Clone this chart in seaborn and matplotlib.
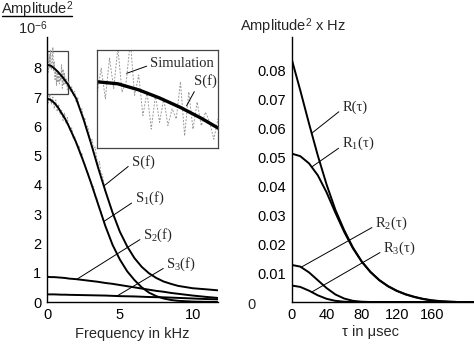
import numpy as np
import pandas as pd
import matplotlib
matplotlib.use('Agg')
import matplotlib.pyplot as plt
import seaborn as sns

# ---- data ----
# spectra (left panel), frequency in kHz, amplitude^2 in 1e-6
freq = [0, 0.25, 0.5, 0.75, 1, 1.25, 1.5, 2, 2.5, 3, 3.5, 4, 4.5, 5, 5.5, 6, 6.5,
        7, 7.5, 8, 8.5, 9, 10, 11, 11.7]
s_total = [8.1, 8.07, 7.98, 7.86, 7.72, 7.56, 7.38, 6.95, 6.25, 5.45, 4.6, 3.8, 3.05,
           2.4, 1.9, 1.5, 1.2, 0.98, 0.82, 0.7, 0.62, 0.55, 0.47, 0.43, 0.4]
s1 = [6.95, 6.9, 6.8, 6.65, 6.45, 6.25, 6.0, 5.45, 4.8, 4.1, 3.35, 2.6, 1.95,
      1.45, 1.05, 0.75, 0.5, 0.32, 0.2, 0.12, 0.07, 0.04, 0.015, 0.005, 0.0]
s2 = [0.86, 0.85, 0.85, 0.84, 0.83, 0.82, 0.8, 0.78, 0.75, 0.72, 0.69, 0.65, 0.62,
      0.58, 0.54, 0.5, 0.46, 0.42, 0.38, 0.35, 0.31, 0.28, 0.22, 0.17, 0.14]
s3 = [0.26, 0.26, 0.26, 0.255, 0.25, 0.25, 0.245, 0.24, 0.235, 0.23, 0.225, 0.22, 0.21,
      0.2, 0.195, 0.19, 0.18, 0.17, 0.165, 0.16, 0.15, 0.14, 0.12, 0.1, 0.09]

# simulated (noisy) spectrum, fine steps near 0 (inset) and along S / S1
sim_f_hi = [0.0, 0.05, 0.1, 0.15, 0.2, 0.25, 0.3, 0.35, 0.4, 0.45, 0.5, 0.55, 0.6, 0.65,
            0.7, 0.75, 0.8, 0.85, 0.9, 0.95, 1.0, 1.05, 1.1, 1.15, 1.2, 1.25, 1.3, 1.35,
            1.4, 1.45]
sim_s_hi = [7.9, 8.3, 7.85, 8.45, 8.0, 8.6, 7.95, 8.1, 8.7, 7.9, 8.2, 7.6, 7.95, 7.4,
            7.9, 7.5, 7.85, 7.45, 7.7, 7.55, 8.1, 7.3, 7.95, 7.4, 7.8, 7.45, 7.65, 7.5,
            7.25, 7.55]
sim_f_mid = [1.5, 1.6, 1.7, 1.8, 1.9, 2.0, 2.1, 2.2, 2.3, 2.4, 2.5, 2.6, 2.7, 2.8, 2.9,
             3.0, 3.1, 3.2, 3.3, 3.4, 3.5, 3.6, 3.7, 3.8, 3.9, 4.0]
sim_s_mid = [7.5, 7.2, 7.35, 7.05, 7.2, 6.85, 7.0, 6.7, 6.55, 6.6, 6.2, 6.3, 5.95, 6.0,
             5.7, 5.5, 5.55, 5.2, 5.3, 4.95, 4.65, 4.8, 4.4, 4.35, 4.05, 3.8]
sim_f1 = [0.0, 0.1, 0.2, 0.3, 0.4, 0.5, 0.6, 0.7, 0.8, 0.9, 1.0, 1.1, 1.2, 1.3, 1.4, 1.5,
          1.6, 1.7, 1.8, 1.9, 2.0, 2.1, 2.2, 2.3, 2.4, 2.5, 2.6, 2.7, 2.8, 2.9, 3.0, 3.1,
          3.2, 3.3, 3.4, 3.5, 3.6, 3.7, 3.8, 3.9, 4.0]
sim_s1 = [7.3, 6.8, 7.1, 6.75, 7.0, 6.6, 6.9, 6.5, 6.75, 6.4, 6.55, 6.2, 6.45, 6.1, 6.3,
          5.95, 5.85, 5.95, 5.6, 5.65, 5.4, 5.3, 5.35, 5.0, 5.1, 4.75, 4.7, 4.5, 4.45,
          4.2, 4.1, 3.9, 3.95, 3.6, 3.55, 3.35, 3.2, 3.1, 2.9, 2.75, 2.6]

# autocorrelations (right panel), tau in microseconds
tau = [0, 10, 20, 30, 40, 50, 60, 70, 80, 90, 100, 110, 120, 130, 140, 150, 160, 170,
       180, 190, 207]
r_total = [0.084, 0.073, 0.0615, 0.0505, 0.0405, 0.0318, 0.0248, 0.0188, 0.014, 0.0104,
           0.0076, 0.0055, 0.0039, 0.0027, 0.0018, 0.0011, 0.0006, 0.0003, 0.0001, 0.0, 0.0]
r1 = [0.0512, 0.0503, 0.0478, 0.0437, 0.0378, 0.0308, 0.0242, 0.0185, 0.0139, 0.0103,
      0.0075, 0.0054, 0.0038, 0.0026, 0.0017, 0.001, 0.0005, 0.0002, 0.0001, 0.0, 0.0]
r2 = [0.0128, 0.0122, 0.0102, 0.0075, 0.0048, 0.0026, 0.0012, 0.0004, 0.0001, 0.0, 0.0,
      0.0, 0.0, 0.0, 0.0, 0.0, 0.0, 0.0, 0.0, 0.0, 0.0]
r3 = [0.0057, 0.0052, 0.0039, 0.0023, 0.0011, 0.0004, 0.0001, 0.0, 0.0, 0.0, 0.0,
      0.0, 0.0, 0.0, 0.0, 0.0, 0.0, 0.0, 0.0, 0.0, 0.0]

# ---- style ----
sns.set_style('white')
plt.rcParams['font.family'] = ['Liberation Sans', 'DejaVu Sans']
plt.rcParams['mathtext.fontset'] = 'custom'
plt.rcParams['mathtext.rm'] = 'Liberation Serif'
plt.rcParams['mathtext.it'] = 'Liberation Serif'
plt.rcParams['mathtext.sf'] = 'Liberation Sans'
SERIF = ['Liberation Serif', 'DejaVu Serif']
FS = 10.5

fig = plt.figure(figsize=(4.74, 3.63), dpi=100)
W, H = 474.0, 363.0
ax1 = fig.add_axes([47 / W, 1 - 302 / H, 170.5 / W, 265 / H])
ax2 = fig.add_axes([291.5 / W, 1 - 302 / H, (474 - 291.5) / W, 265 / H])
axin = fig.add_axes([97 / W, 1 - 148 / H, 121 / W, 98 / H])

spec = pd.DataFrame({'f': freq, 'S': s_total, 'S1': s1, 'S2': s2, 'S3': s3})
corr = pd.DataFrame({'tau': tau, 'R': r_total, 'R1': r1, 'R2': r2, 'R3': r3})

# ---- left panel ----
sim_kw = dict(color='#9a9a9a', lw=0.7, linestyle=(0, (2, 1.5)))
sns.lineplot(x=sim_f_hi + sim_f_mid, y=sim_s_hi + sim_s_mid, ax=ax1, **sim_kw)
sns.lineplot(x=sim_f1, y=sim_s1, ax=ax1, **sim_kw)
for col in ['S', 'S1', 'S2', 'S3']:
    sns.lineplot(data=spec, x='f', y=col, ax=ax1, color='black', lw=1.4)

ax1.add_patch(plt.Rectangle((0, 7.12), 1.45, 1.45, fill=False, edgecolor='#444444', lw=0.9))
ax1.set_xlim(0, 11.7)
ax1.set_ylim(0, 9.05)
ax1.set_xticks([0, 5, 10])
ax1.set_yticks(range(0, 9))
ax1.set_xlabel('Frequency in kHz', fontsize=FS, labelpad=4)
ax1.set_ylabel('')

lead = dict(arrowstyle='-', color='black', lw=0.7, shrinkA=0, shrinkB=0, relpos=(0, 0.35))
labels_left = [('S(f)', s_total, 3.9, (5.8, 4.79)),
               ('S$_1$(f)', s1, 3.9, (6.03, 3.54)),
               ('S$_2$(f)', s2, 2.05, (6.6, 2.29)),
               ('S$_3$(f)', s3, 4.8, (8.2, 1.3))]
for txt, ys, fx, pos in labels_left:
    ax1.annotate(txt, xy=(fx, np.interp(fx, freq, ys)), xytext=pos, ha='left', va='center',
                 fontsize=FS, family=SERIF, arrowprops=lead)

# ---- inset ----
sns.lineplot(x=sim_f_hi, y=sim_s_hi, ax=axin, **sim_kw)
sns.lineplot(data=spec, x='f', y='S', ax=axin, color='black', lw=2.4)
axin.set_xlim(0, 1.45)
axin.set_ylim(7.12, 8.57)
axin.set_xticks([])
axin.set_yticks([])
axin.set_xlabel('')
axin.set_ylabel('')
for sp in axin.spines.values():
    sp.set_color('#444444')
    sp.set_linewidth(0.9)
axin.annotate('Simulation', xy=(0.245, 0.762), xytext=(0.438, 0.867), xycoords='axes fraction',
              textcoords='axes fraction', ha='left', va='center', fontsize=FS, family=SERIF,
              arrowprops=lead)
axin.annotate('S(f)', xy=(0.74, 0.43), xytext=(0.8, 0.68), xycoords='axes fraction',
              textcoords='axes fraction', ha='left', va='center', fontsize=FS, family=SERIF,
              arrowprops=dict(lead, relpos=(0.1, 0.0)))

# ---- right panel ----
for col in ['R', 'R1', 'R2', 'R3']:
    sns.lineplot(data=corr, x='tau', y=col, ax=ax2, color='black', lw=1.4)
ax2.set_xlim(0, 208)
ax2.set_ylim(0, 0.0914)
ax2.set_xticks([0, 40, 80, 120, 160])
ax2.set_yticks([0.01, 0.02, 0.03, 0.04, 0.05, 0.06, 0.07, 0.08])
ax2.set_yticklabels(['0.01', '0.02', '0.03', '0.04', '0.05', '0.06', '0.07', '0.08'])
ax2.set_ylabel('')
ax2.set_xlabel('τ in μsec', fontsize=FS, labelpad=4)
ax2.xaxis.set_label_coords(90 / 208, -0.085)
ax2.text(-0.219, -0.012, '0', transform=ax2.transAxes, ha='center', va='center', fontsize=FS)

labels_right = [('R(τ)', r_total, 23, (57.7, 0.0672)),
                ('R$_1$(τ)', r1, 23, (57.4, 0.0547)),
                ('R$_2$(τ)', r2, 11, (95.4, 0.0272)),
                ('R$_3$(τ)', r3, 23, (104.6, 0.0186))]
for txt, ys, tx, pos in labels_right:
    ax2.annotate(txt, xy=(tx, np.interp(tx, tau, ys)), xytext=pos, ha='left', va='center',
                 fontsize=FS, family=SERIF, arrowprops=lead)

for ax in (ax1, ax2):
    ax.patch.set_alpha(0)
    for side in ('top', 'right'):
        ax.spines[side].set_visible(False)
    for side in ('left', 'bottom'):
        ax.spines[side].set_color('black')
        ax.spines[side].set_linewidth(1.0)
    ax.tick_params(direction='in', length=3, width=0.8, labelsize=FS, pad=4, colors='black')

# ---- axis titles above the panels ----
fig.text(37 / W, 1 - 10 / H, r'Amplitude$^{\mathsf{2}}$', ha='center', va='center', fontsize=FS)
fig.add_artist(plt.Line2D([2 / W, 72 / W], [1 - 16 / H, 1 - 16 / H], color='black', lw=1.0))
fig.text(33 / W, 1 - 28 / H, r'10$^{\mathsf{-6}}$', ha='center', va='center', fontsize=FS)
fig.text(240 / W, 1 - 27 / H, r'Amplitude$^{\mathsf{2}}$ x Hz', ha='left', va='center',
         fontsize=FS)

fig.savefig('out.png', dpi=100)
